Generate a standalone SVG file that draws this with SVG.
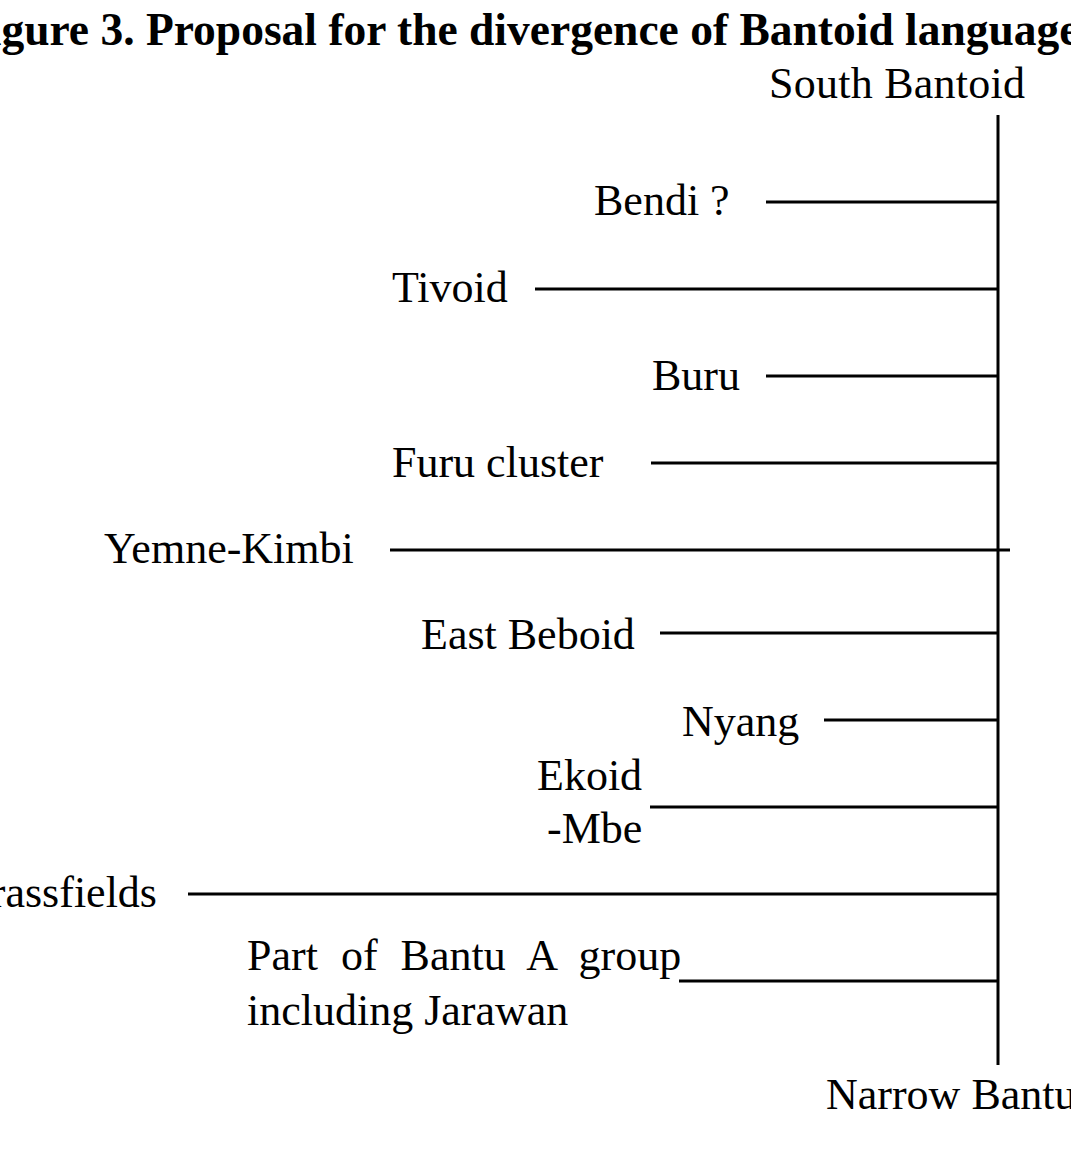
<svg xmlns="http://www.w3.org/2000/svg" width="1071" height="1149" viewBox="0 0 1071 1149">
<style>
  .lbl { font-family: "Liberation Serif", "Times New Roman", serif; font-size: 44px; fill: #000; }
  .title { font-family: "Liberation Serif", "Times New Roman", serif; font-size: 45.5px; font-weight: bold; fill: #000; }
  .edge { stroke: #000; stroke-width: 3; fill: none; }
</style>
<rect x="0" y="0" width="1071" height="1149" fill="#fff"/>
<text id="title" class="title" x="-39" y="45">Figure 3. Proposal for the divergence of Bantoid languages</text>
<g id="connectors">
  <line class="edge" x1="998" y1="115" x2="998" y2="1065"/>
  <line class="edge" x1="766" y1="202" x2="998" y2="202"/>
  <line class="edge" x1="535" y1="289" x2="998" y2="289"/>
  <line class="edge" x1="766" y1="376" x2="998" y2="376"/>
  <line class="edge" x1="651" y1="463" x2="998" y2="463"/>
  <line class="edge" x1="390" y1="550" x2="1010" y2="550"/>
  <line class="edge" x1="660" y1="633" x2="998" y2="633"/>
  <line class="edge" x1="824" y1="720" x2="998" y2="720"/>
  <line class="edge" x1="650" y1="807" x2="998" y2="807"/>
  <line class="edge" x1="188" y1="894" x2="998" y2="894"/>
  <line class="edge" x1="679" y1="981" x2="998" y2="981"/>
</g>
<g id="node-south-bantoid"><text class="lbl" x="769" y="98" textLength="256">South Bantoid</text></g>
<g id="node-bendi"><text class="lbl" x="594" y="215">Bendi ?</text></g>
<g id="node-tivoid"><text class="lbl" x="392" y="302">Tivoid</text></g>
<g id="node-buru"><text class="lbl" x="652" y="390">Buru</text></g>
<g id="node-furu"><text class="lbl" x="392" y="477">Furu cluster</text></g>
<g id="node-yemne-kimbi"><text class="lbl" x="104" y="563">Yemne-Kimbi</text></g>
<g id="node-east-beboid"><text class="lbl" x="421" y="649">East Beboid</text></g>
<g id="node-nyang"><text class="lbl" x="682" y="736">Nyang</text></g>
<g id="node-ekoid-mbe">
  <text class="lbl" x="537" y="790">Ekoid</text>
  <text class="lbl" x="547" y="843">-Mbe</text>
</g>
<g id="node-grassfields"><text class="lbl" x="157" y="907" text-anchor="end">Grassfields</text></g>
<g id="node-bantu-a">
  <text class="lbl" x="247" y="970" word-spacing="12">Part of Bantu A group</text>
  <text class="lbl" x="247" y="1025">including Jarawan</text>
</g>
<g id="node-narrow-bantu"><text class="lbl" x="826" y="1109">Narrow Bantu</text></g>
</svg>
